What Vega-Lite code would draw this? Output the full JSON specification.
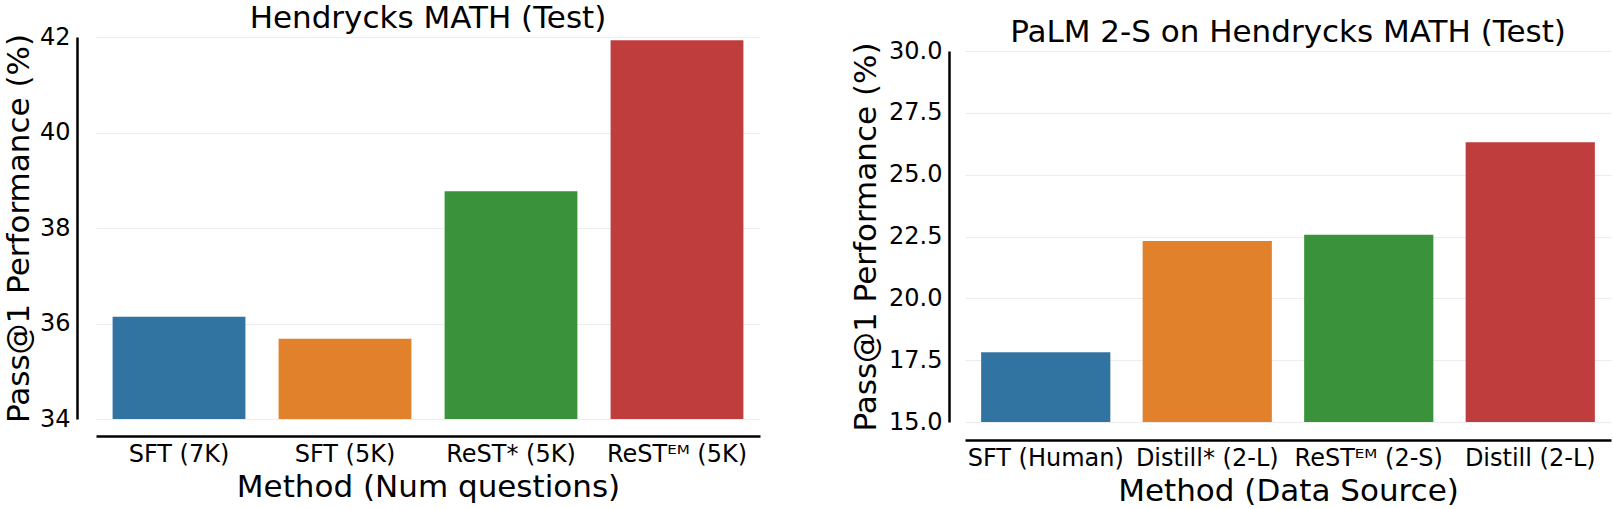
{
  "$schema": "https://vega.github.io/schema/vega-lite/v6.json",
  "padding": {"left": 3, "top": 3, "right": 4, "bottom": 1},
  "background": "white",
  "datasets": {
    "math": [
      {"method": "SFT (7K)", "pass1": 36.14},
      {"method": "SFT (5K)", "pass1": 35.68},
      {"method": "ReST* (5K)", "pass1": 38.77},
      {"method": "ReSTᴱᴹ (5K)", "pass1": 41.93}
    ],
    "palm": [
      {"method": "SFT (Human)", "pass1": 17.82},
      {"method": "Distill* (2-L)", "pass1": 22.32},
      {"method": "ReSTᴱᴹ (2-S)", "pass1": 22.57},
      {"method": "Distill (2-L)", "pass1": 26.31}
    ]
  },
  "spacing": 90,
  "hconcat": [
    {
      "data": {"name": "math"},
      "width": 664,
      "height": 382,
      "title": {"text": "Hendrycks MATH (Test)", "offset": -10},
      "mark": {"type": "bar", "clip": true},
      "encoding": {
        "x": {
          "field": "method",
          "type": "nominal",
          "sort": null,
          "title": "Method (Num questions)",
          "scale": {"paddingInner": 0.2, "paddingOuter": 0.1},
          "axis": {"offset": 17}
        },
        "y": {
          "field": "pass1",
          "type": "quantitative",
          "title": "Pass@1 Performance (%)",
          "scale": {"domain": [34, 42], "nice": false, "zero": false},
          "axis": {"values": [34, 36, 38, 40, 42], "offset": 19, "titlePadding": 4}
        },
        "color": {
          "field": "method",
          "type": "nominal",
          "sort": null,
          "scale": {"range": ["#3274a1", "#e1812c", "#3a923a", "#c03d3e"]},
          "legend": null
        }
      }
    },
    {
      "data": {"name": "palm"},
      "width": 646,
      "height": 385,
      "title": {"text": "PaLM 2-S on Hendrycks MATH (Test)", "offset": -12},
      "mark": {"type": "bar", "clip": true},
      "encoding": {
        "x": {
          "field": "method",
          "type": "nominal",
          "sort": null,
          "title": "Method (Data Source)",
          "scale": {"paddingInner": 0.2, "paddingOuter": 0.1},
          "axis": {"offset": 18}
        },
        "y": {
          "field": "pass1",
          "type": "quantitative",
          "title": "Pass@1 Performance (%)",
          "scale": {"domain": [15, 30], "nice": false, "zero": false, "range": [385, 14]},
          "axis": {"values": [15, 17.5, 20, 22.5, 25, 27.5, 30], "format": ".1f", "offset": 16, "titlePadding": 6}
        },
        "color": {
          "field": "method",
          "type": "nominal",
          "sort": null,
          "scale": {"range": ["#3274a1", "#e1812c", "#3a923a", "#c03d3e"]},
          "legend": null
        }
      }
    }
  ],
  "resolve": {"scale": {"x": "independent", "y": "independent", "color": "independent"}},
  "config": {
    "font": "DejaVu Sans",
    "view": {"stroke": null},
    "title": {"fontSize": 31, "fontWeight": "normal", "color": "black", "anchor": "middle"},
    "axis": {
      "domainColor": "black",
      "domainWidth": 2.5,
      "ticks": false,
      "tickSize": 0,
      "labelFontSize": 24,
      "labelColor": "black",
      "titleFontSize": 31,
      "titleFontWeight": "normal",
      "titleColor": "black",
      "gridColor": "#ececec",
      "gridWidth": 1
    },
    "axisX": {"grid": false, "labelAngle": 0, "labelPadding": 6, "titlePadding": 6, "labelLimit": 0},
    "axisY": {"grid": true, "labelPadding": 7}
  }
}
